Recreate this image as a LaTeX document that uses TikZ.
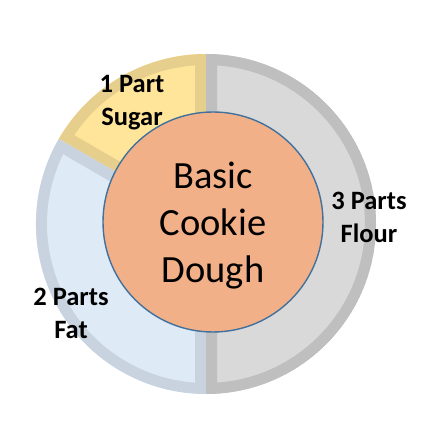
\documentclass[tikz,border=0pt]{standalone}
\usepackage{fontspec}
\setmainfont{Carlito}
\definecolor{sugarfill}{RGB}{255,229,153}
\definecolor{sugarline}{RGB}{230,206,140}
\definecolor{fatfill}{RGB}{222,234,246}
\definecolor{fatline}{RGB}{200,211,223}
\definecolor{flourfill}{RGB}{217,217,217}
\definecolor{flourline}{RGB}{191,191,191}
\definecolor{doughfill}{RGB}{242,176,136}
\definecolor{doughline}{RGB}{65,113,156}
\newcommand{\ringwedge}[4]{%
  \begin{scope}
    \clip (O) -- ++(#1:170) arc[start angle=#1,end angle=#2,radius=170] -- cycle;
    \path[fill=#3,draw=#4,line width=22pt] (O) -- ++(#1:170) arc[start angle=#1,end angle=#2,radius=170] -- cycle;
  \end{scope}}
\tikzset{
  label/.style={font=\bfseries\fontsize{26.5}{33}\selectfont,align=center,inner sep=0pt},
  core/.style={circle,minimum size=220pt,inner sep=0pt,fill=doughfill,draw=doughline,line width=1.4pt},
  coretext/.style={font=\fontsize{38.5}{47}\selectfont,align=center,inner sep=0pt}
}
\begin{document}
\begin{tikzpicture}[x=1pt,y=1pt]
\useasboundingbox (0,0) rectangle (426,422);
\coordinate (O) at (206,198);
\ringwedge{90}{150}{sugarfill}{sugarline}
\ringwedge{150}{270}{fatfill}{fatline}
\ringwedge{-90}{90}{flourfill}{flourline}
\node[core] (dough) at (213,200) {};
\node[coretext] (doughtext) at (213,196) {Basic\\Cookie\\Dough};
\node[label] (sugar) at (132,319) {1 Part\\Sugar};
\node[label] (flour) at (369,205) {3 Parts\\Flour};
\node[label] (fat) at (71,109) {2 Parts\\Fat};
\end{tikzpicture}
\end{document}
